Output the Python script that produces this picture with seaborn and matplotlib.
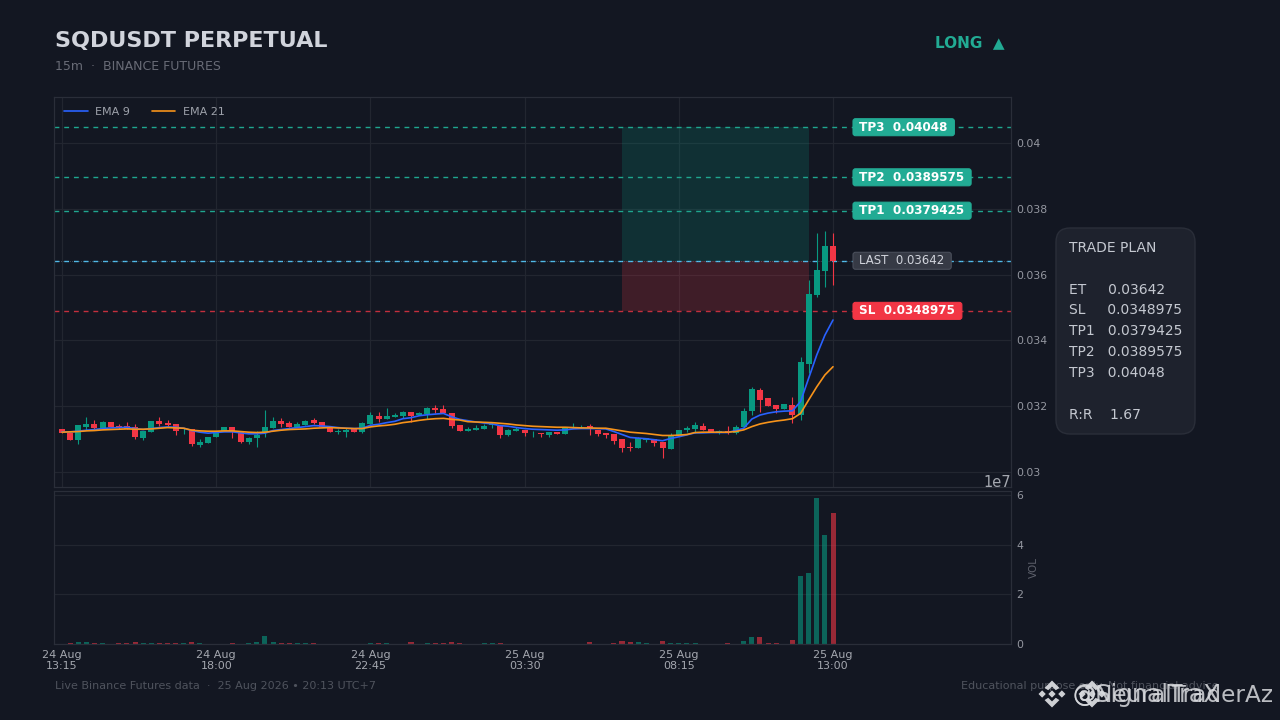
import numpy as np
import pandas as pd
import matplotlib
matplotlib.use("Agg")
import matplotlib.pyplot as plt
from matplotlib.patches import FancyBboxPatch, Polygon
from matplotlib.ticker import FormatStrFormatter
from matplotlib.transforms import IdentityTransform
import seaborn as sns

# prices are in units of 0.00001 USDT
open_ = [3131,3118,3097,3137,3146,3133,3152,3140,3140,3136,
         3102,3122,3155,3149,3146,3131,3132,3082,3088,3106,
         3125,3137,3125,3091,3103,3118,3133,3155,3149,3136,
         3143,3159,3152,3138,3122,3122,3132,3123,3146,3170,
         3161,3167,3170,3182,3173,3176,3195,3191,3179,3143,
         3125,3128,3131,3143,3141,3112,3125,3128,3118,3120,
         3112,3123,3116,3135,3134,3139,3127,3120,3116,3100,
         3076,3073,3097,3099,3091,3070,3112,3127,3130,3140,
         3130,3122,3126,3118,3136,3185,3249,3225,3204,3190,
         3204,3173,3328,3538,3611,3687]
high = [3131,3118,3143,3166,3158,3156,3153,3146,3152,3146,
        3125,3155,3166,3157,3146,3135,3132,3099,3106,3120,
        3137,3137,3125,3107,3126,3187,3166,3163,3154,3151,
        3159,3164,3152,3138,3130,3133,3132,3153,3181,3182,
        3194,3178,3185,3182,3182,3199,3204,3203,3180,3143,
        3138,3144,3146,3151,3141,3132,3137,3128,3125,3120,
        3123,3123,3137,3148,3142,3146,3127,3120,3116,3100,
        3091,3107,3104,3099,3091,3118,3128,3140,3151,3148,
        3130,3128,3141,3143,3194,3257,3254,3225,3204,3207,
        3229,3351,3584,3727,3731,3727]
low = [3120,3097,3084,3128,3128,3133,3137,3130,3132,3101,
       3098,3122,3141,3138,3113,3114,3080,3075,3088,3106,
       3125,3104,3089,3084,3077,3105,3133,3138,3137,3136,
       3143,3145,3138,3122,3117,3107,3122,3118,3146,3153,
       3161,3167,3163,3153,3173,3162,3178,3178,3135,3125,
       3125,3128,3131,3133,3104,3108,3125,3110,3107,3107,
       3107,3116,3116,3135,3134,3111,3110,3104,3086,3060,
       3064,3073,3092,3080,3044,3070,3112,3121,3120,3128,
       3122,3116,3114,3114,3136,3173,3183,3201,3178,3190,
       3148,3158,3300,3533,3563,3568]
close = [3120,3097,3143,3146,3133,3153,3137,3133,3132,3106,
         3125,3155,3145,3142,3125,3133,3086,3091,3106,3120,
         3137,3121,3091,3103,3112,3137,3155,3145,3137,3146,
         3155,3148,3138,3122,3125,3128,3122,3149,3173,3160,
         3170,3173,3182,3170,3180,3195,3187,3178,3140,3125,
         3131,3135,3140,3145,3112,3128,3131,3119,3120,3117,
         3123,3116,3133,3137,3138,3132,3116,3113,3094,3073,
         3074,3102,3104,3087,3073,3110,3128,3135,3143,3128,
         3122,3125,3123,3137,3185,3252,3219,3201,3190,3207,
         3173,3333,3541,3614,3687,3642]
ema9 = [3122,3122,3124,3127,3129,3132,3134,3135,3136,3132,
        3129,3132,3135,3137,3136,3133,3126,3121,3118,3120,
        3122,3122,3119,3116,3116,3118,3126,3129,3132,3135,
        3138,3141,3140,3138,3135,3133,3132,3133,3142,3145,
        3150,3154,3162,3165,3171,3174,3176,3178,3168,3160,
        3156,3152,3149,3146,3141,3139,3135,3132,3130,3129,
        3128,3127,3128,3131,3132,3132,3132,3131,3123,3114,
        3105,3103,3101,3098,3095,3102,3107,3113,3119,3119,
        3120,3120,3120,3126,3133,3161,3173,3179,3183,3185,
        3186,3214,3285,3356,3416,3462]
ema21 = [3121,3122,3123,3125,3126,3128,3129,3130,3131,3130,
         3130,3131,3133,3135,3134,3133,3127,3125,3124,3124,
         3125,3125,3123,3121,3120,3121,3124,3127,3129,3130,
         3131,3133,3134,3135,3134,3133,3132,3132,3137,3140,
         3142,3145,3150,3153,3157,3160,3162,3163,3160,3158,
         3153,3152,3151,3150,3148,3146,3143,3141,3139,3138,
         3137,3136,3136,3135,3134,3134,3133,3133,3129,3125,
         3121,3119,3117,3114,3111,3111,3112,3114,3120,3121,
         3121,3121,3121,3123,3128,3138,3146,3151,3155,3158,
         3162,3178,3219,3259,3295,3320]
# volume in millions
volume = [0,.3,.8,.8,.4,.4,0,.4,.4,.8,
          .4,.4,.4,.4,.4,.4,.8,.4,0,0,
          0,.4,0,.4,.8,3.2,.8,.4,.4,.4,
          .4,.4,0,0,0,0,0,0,.4,.4,
          .4,0,0,.8,0,.4,.4,.4,.8,.3,
          0,0,.3,.3,.3,0,0,0,0,0,
          0,0,0,0,0,.7,0,0,.4,1.2,
          .8,.8,.4,0,1.2,.4,.4,.4,.4,0,
          0,0,.4,0,1.2,2.8,2.8,.4,.4,0,
          1.6,27.4,28.6,58.8,43.9,52.8]
tick_bars = [0, 19, 38, 57, 76, 95]
tick_labels = ["24 Aug\n13:15", "24 Aug\n18:00", "24 Aug\n22:45",
               "25 Aug\n03:30", "25 Aug\n08:15", "25 Aug\n13:00"]
levels = {"TP3": 0.04048, "TP2": 0.0389575, "TP1": 0.0379425,
          "LAST": 0.03642, "SL": 0.0348975}
level_text = {"TP3": "TP3  0.04048", "TP2": "TP2  0.0389575", "TP1": "TP1  0.0379425",
              "LAST": "LAST  0.03642", "SL": "SL  0.0348975"}
zone_bars = [69.0, 92.0]
plan_text = ("TRADE PLAN\n\nET     0.03642\nSL     0.0348975\nTP1   0.0379425\n"
             "TP2   0.0389575\nTP3   0.04048\n\nR:R    1.67")

BG = "#131722"; GRID = "#222630"; SPINE = "#2a2e39"
UP = "#089981"; DOWN = "#f23645"; TEAL = "#22ab94"
W, H = 1280, 720

sns.set_theme(style="dark", rc={"axes.facecolor": BG, "figure.facecolor": BG})
plt.rcParams["font.family"] = ["DejaVu Sans"]

df = pd.DataFrame({"i": np.arange(len(open_)), "open": np.array(open_) * 1e-5,
                   "high": np.array(high) * 1e-5, "low": np.array(low) * 1e-5,
                   "close": np.array(close) * 1e-5, "ema9": np.array(ema9) * 1e-5,
                   "ema21": np.array(ema21) * 1e-5, "vol": np.array(volume) * 1e6})
df["dir"] = np.where(df["close"] >= df["open"], "up", "down")

fig = plt.figure(figsize=(W / 100, H / 100), dpi=100, facecolor=BG)
ax = fig.add_axes([54 / W, 1 - 487 / H, 957 / W, 390 / H])
axv = fig.add_axes([54 / W, 1 - 644 / H, 957 / W, 153 / H], sharex=ax)

# zones
ax.fill_between(zone_bars, levels["LAST"], levels["TP3"], color=UP, alpha=0.2, lw=0, zorder=1)
ax.fill_between(zone_bars, levels["SL"], levels["LAST"], color=DOWN, alpha=0.2, lw=0, zorder=1)

# levels
dash = (0, (3.5, 3.5))
for k in ("TP3", "TP2", "TP1"):
    ax.axhline(levels[k], color="#1fa68f", lw=1.0, ls=dash, zorder=2)
ax.axhline(levels["SL"], color=DOWN, lw=1.0, ls=dash, alpha=0.8, zorder=2)
ax.axhline(levels["LAST"], color="#42b4e6", lw=1.0, ls=dash, zorder=2)
ax.axhline(levels["LAST"], color="#cfe6f2", lw=0.6, ls=":", alpha=0.35, zorder=2)

# candles
colors = df["dir"].map({"up": UP, "down": DOWN})
ax.vlines(df["i"], df["low"], df["high"], colors=colors, lw=0.8, zorder=3)
ax.bar(df["i"], (df["close"] - df["open"]).abs(), bottom=df[["open", "close"]].min(axis=1),
       width=0.74, color=colors, lw=0, zorder=3)

# EMAs
sns.lineplot(data=df, x="i", y="ema9", ax=ax, color="#2962ff", lw=1.2, label="EMA 9", zorder=4)
sns.lineplot(data=df, x="i", y="ema21", ax=ax, color="#f7931a", lw=1.2, label="EMA 21", zorder=4)
leg = ax.legend(loc="upper left", ncols=2, frameon=False, fontsize=8, labelcolor="#9ea2ab",
                bbox_to_anchor=(0, 1.0), borderaxespad=0.53, columnspacing=1.93,
                handlelength=2.1, handletextpad=0.7)

# volume
sns.barplot(data=df, x="i", y="vol", hue="dir", palette={"up": UP, "down": DOWN}, native_scale=True,
            dodge=False, width=0.62, alpha=0.6, saturation=1, legend=False, ax=axv,
            linewidth=0, edgecolor="none")

ax.set_ylim(0.029544, 0.041398)
axv.set_ylim(0, 6.16e7)
ax.set_xlim(-0.986, 116.93)

ax.set_yticks([0.03, 0.032, 0.034, 0.036, 0.038, 0.04])
ax.yaxis.set_major_formatter(FormatStrFormatter("%g"))
axv.set_yticks([0, 2e7, 4e7, 6e7])
axv.set_xticks(tick_bars, tick_labels)
for a in (ax, axv):
    a.yaxis.tick_right()
    a.set_axisbelow(True)
    a.set_xlabel("")
    a.set_ylabel("")
    a.tick_params(axis="both", length=0, labelsize=7.8, labelcolor="#9598a1", pad=4)
    for s in a.spines.values():
        s.set_color(SPINE)
        s.set_linewidth(0.9)
ax.tick_params(axis="x", labelbottom=False)
axv.tick_params(axis="x", labelsize=8, labelcolor="#a4a7af", pad=4)
ax.grid(True, color=GRID, lw=0.9)
axv.grid(True, axis="y", color=GRID, lw=0.9)
axv.grid(False, axis="x")
axv.yaxis.set_label_position("right")
axv.set_ylabel("VOL", fontsize=7.5, color="#5d606b", labelpad=4)
axv.yaxis.get_offset_text().set_fontsize(10.5)
axv.yaxis.get_offset_text().set_color("#a4a7af")


def px(x, y):
    return x / W, 1 - y / H


# level labels
box_colors = {"TP3": TEAL, "TP2": TEAL, "TP1": TEAL, "SL": DOWN, "LAST": "#363a45"}
renderer = fig.canvas.get_renderer()
for k, val in levels.items():
    bold = k != "LAST"
    y_disp = ax.transData.transform((0, val))[1]
    t = fig.text(859 / W, y_disp / H, level_text[k], fontsize=8.65 if bold else 8.5,
                 fontweight="bold" if bold else "normal", color="#ffffff" if bold else "#d1d4dc",
                 va="center", ha="left", zorder=10)
    x1 = t.get_window_extent(renderer).x1
    box = FancyBboxPatch((855, y_disp - 6.5), x1 + 5 - 855, 13,
                         boxstyle="round,pad=2,rounding_size=2.5", transform=IdentityTransform(),
                         fc=box_colors[k], ec="#4a4f5b" if k == "LAST" else box_colors[k],
                         lw=0.8, zorder=9)
    fig.add_artist(box)

# trade plan panel
panel = FancyBboxPatch((1066, H - 424), 119, 186, boxstyle="round,pad=10,rounding_size=14",
                       transform=IdentityTransform(), fc="#1e222d", ec="#2a2e39", lw=1.0, zorder=5)
fig.add_artist(panel)
x0, y0 = px(1069, 241)
fig.text(x0, y0, plan_text, fontsize=10, color="#c4c8d0", va="top", ha="left", linespacing=1.62, zorder=6)

# header and footer
x0, y0 = px(55, 40.5)
fig.text(x0, y0, "SQDUSDT PERPETUAL", fontsize=16, fontweight="bold", color="#d1d4dc", va="center")
x0, y0 = px(55, 66)
fig.text(x0, y0, "15m  ·  BINANCE FUTURES", fontsize=9, color="#686b76", va="center")
x0, y0 = px(935, 43)
fig.text(x0, y0, "LONG  ▲", fontsize=11, fontweight="bold", color=TEAL, va="center")
x0, y0 = px(55, 686)
fig.text(x0, y0, "Live Binance Futures data  ·  25 Aug 2026 • 20:13 UTC+7", fontsize=8, color="#4f535d", va="center")
x0, y0 = px(961, 686)
fig.text(x0, y0, "Educational purpose only. Not financial advice", fontsize=8, color="#4f535d", va="center", ha="left")


# watermark
def logo(cx, cy, s, color="#d8dade", alpha=0.95):
    """Binance-style mark, in pixel coordinates from the top-left."""
    def add(points):
        pts = [(cx + a * s, H - (cy + b * s)) for a, b in points]
        fig.add_artist(Polygon(pts, closed=True, transform=IdentityTransform(), fc=color, ec="none", alpha=alpha, zorder=8))
    add([(0, -.27), (.27, 0), (0, .27), (-.27, 0)])
    add([(-1, 0), (-.73, -.27), (-.46, 0), (-.73, .27)])
    add([(1, 0), (.73, -.27), (.46, 0), (.73, .27)])
    add([(0, -1), (.55, -.45), (.28, -.28), (0, -.55), (-.28, -.28), (-.55, -.45)])
    add([(0, 1), (.55, .45), (.28, .28), (0, .55), (-.28, .28), (-.55, .45)])


logo(1052, 694, 13.5)
logo(1092, 694, 13.5)
x0, y0 = px(1072, 695)
fig.text(x0, y0, "@SignalTraX", fontsize=17, color="#d8dade", alpha=0.85, va="center", zorder=8)
fig.text(x0, y0, "@NeuralTraderAz", fontsize=16.7, color="#d8dade", alpha=0.85, va="center", zorder=8)

fig.savefig("out.png", dpi=100, facecolor=BG)
